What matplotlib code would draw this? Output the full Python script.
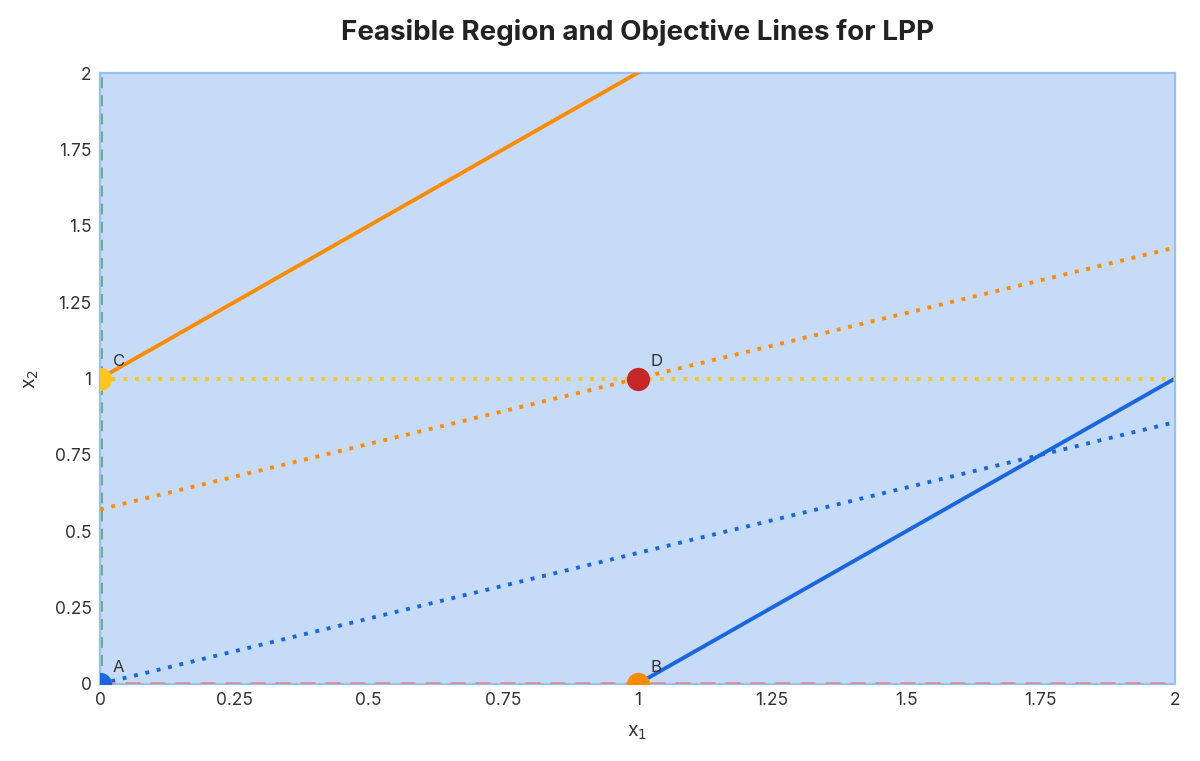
import matplotlib
matplotlib.use("Agg")
import matplotlib.pyplot as plt
import numpy as np

# DATA
x_range = [0, 2]
# constraint lines x2 = slope * x1 + intercept
orange_solid = (1.0, 1.0)      # through C(0,1) and (1,2)
blue_solid = (1.0, -1.0)       # through B(1,0) and (2,1)
# objective lines, slope 3/7
obj_through_A = (3 / 7, 0.0)
obj_through_D = (3 / 7, 4 / 7)
yellow_level = 1.0

point_names = ["A", "B", "C", "D"]
point_x = [0, 1, 0, 1]
point_y = [0, 0, 1, 1]
point_colors = ["#1a66e0", "#ff8c00", "#ffc61a", "#c62828"]

tick_vals = [0, 0.25, 0.5, 0.75, 1, 1.25, 1.5, 1.75, 2]
tick_labels = ["0", "0.25", "0.5", "0.75", "1", "1.25", "1.5", "1.75", "2"]

plt.rcParams['font.family'] = ['Inter', 'DejaVu Sans']

fig = plt.figure(figsize=(12, 7.61), dpi=100)
ax = fig.add_axes([100 / 1200, 1 - 684 / 761, 1075 / 1200, 611 / 761])

# feasible region (whole window)
ax.fill_between(x_range, [0, 0], [2, 2], color="#c6dbf7", zorder=0, linewidth=0)

xs = np.array(x_range, dtype=float)
def line(params):
    m, b = params
    return m * xs + b

ax.plot(xs, line(orange_solid), color="#ff8c00", lw=2.8, zorder=3)
ax.plot(xs, line(blue_solid), color="#1a66e0", lw=2.8, zorder=3)
ax.plot(xs, line(obj_through_D), color="#ff8c00", lw=2.8, ls=(0, (1, 2)), zorder=3)
ax.plot(xs, line(obj_through_A), color="#1a66e0", lw=2.8, ls=(0, (1, 2)), zorder=3)
ax.plot(xs, [yellow_level, yellow_level], color="#ffc61a", lw=2.8, ls=(0, (1, 2)), zorder=3)

# axes constraints x1 >= 0, x2 >= 0
ax.axvline(0.003, color="#6aa680", lw=1.3, ls=(0, (6, 4)), zorder=6)
ax.axhline(0.003, color="#d98a9a", lw=1.8, ls=(0, (6, 4)), zorder=6)

for name, px, py, c in zip(point_names, point_x, point_y, point_colors):
    ax.scatter([px], [py], s=280, color=c, zorder=7, linewidths=0)
    ax.annotate(name, (px, py), xytext=(9, 9), textcoords="offset points",
                fontsize=12, color="#333333", zorder=8)

ax.set_xlim(0, 2)
ax.set_ylim(0, 2)
ax.set_xticks(tick_vals)
ax.set_xticklabels(tick_labels)
ax.set_yticks(tick_vals)
ax.set_yticklabels(tick_labels)
ax.tick_params(length=0, labelsize=12.5, labelcolor="#333333", pad=6)

for s in ax.spines.values():
    s.set_color("#99c0f5")
    s.set_linewidth(1.6)

ax.set_xlabel("x$_1$", fontsize=14, color="#333333", labelpad=10)
ax.set_ylabel("x$_2$", fontsize=14, color="#333333", labelpad=10)
ax.set_title("Feasible Region and Objective Lines for LPP", fontsize=20,
             fontweight="bold", color="#222222", pad=24)

fig.savefig("out.png", dpi=100)
